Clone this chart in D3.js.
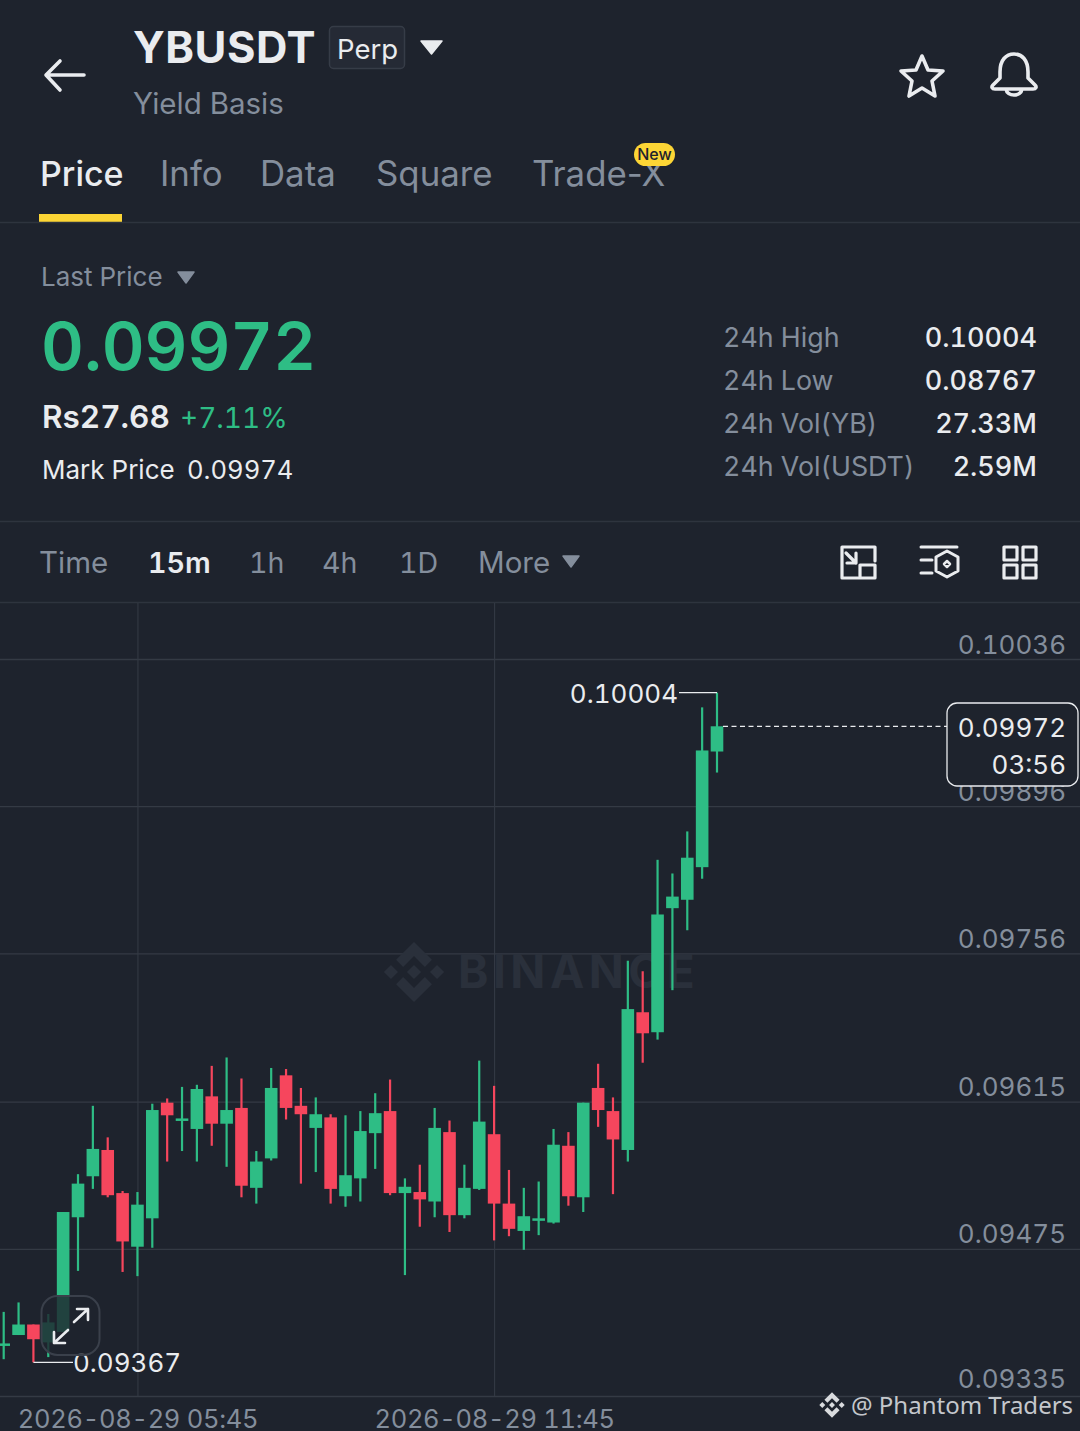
<!DOCTYPE html>
<html>
<head>
<meta charset="utf-8">
<script src="https://cdn.jsdelivr.net/npm/d3@7"></script>
<style>
  html, body { margin: 0; padding: 0; background: #1e232d; overflow: hidden; }
  svg { display: block; font-family: Inter, "Noto Sans", sans-serif; font-variant-numeric: tabular-nums; }
</style>
</head>
<body>
<div id="chart"></div>
<script>
// candles, 15m each, oldest first
const opens = [0.09383,0.09393,0.09403,0.09386,0.09396,0.09505,0.09544,0.09569,0.09528,0.09477,0.09504,0.09614,0.09597,0.09589,0.09620,0.09594,0.09609,0.09533,0.09561,0.09640,0.09611,0.09590,0.09600,0.09525,0.09542,0.09585,0.09606,0.09528,0.09529,0.09520,0.09586,0.09507,0.09532,0.09584,0.09518,0.09492,0.09502,0.09500,0.09573,0.09524,0.09628,0.09606,0.09569,0.09700,0.09681,0.09799,0.09807,0.09838,0.09948];
const highs = [0.09415,0.09424,0.09403,0.09413,0.09510,0.09546,0.09611,0.09581,0.09530,0.09529,0.09613,0.09618,0.09629,0.09631,0.09649,0.09657,0.09637,0.09568,0.09647,0.09646,0.09628,0.09619,0.09603,0.09602,0.09606,0.09623,0.09636,0.09542,0.09555,0.09609,0.09597,0.09555,0.09654,0.09630,0.09550,0.09533,0.09539,0.09589,0.09586,0.09614,0.09651,0.09619,0.09749,0.09739,0.09845,0.09832,0.09872,0.09990,0.10004];
const lows = [0.09370,0.09393,0.09367,0.09372,0.09396,0.09454,0.09532,0.09524,0.09453,0.09449,0.09476,0.09558,0.09568,0.09558,0.09573,0.09553,0.09524,0.09518,0.09559,0.09598,0.09537,0.09548,0.09518,0.09515,0.09520,0.09551,0.09526,0.09450,0.09496,0.09505,0.09491,0.09504,0.09531,0.09483,0.09487,0.09474,0.09488,0.09499,0.09516,0.09510,0.09591,0.09527,0.09558,0.09652,0.09674,0.09721,0.09778,0.09827,0.09928];
const closes = [0.09385,0.09403,0.09389,0.09405,0.09510,0.09537,0.09570,0.09526,0.09482,0.09517,0.09607,0.09602,0.09599,0.09627,0.09594,0.09607,0.09535,0.09558,0.09628,0.09609,0.09603,0.09603,0.09532,0.09545,0.09587,0.09604,0.09528,0.09534,0.09522,0.09590,0.09507,0.09533,0.09596,0.09518,0.09494,0.09506,0.09504,0.09574,0.09525,0.09614,0.09607,0.09579,0.09703,0.09680,0.09793,0.09810,0.09847,0.09949,0.09972];

const priceTicks = [0.10036, 0.09896, 0.09756, 0.09615, 0.09475, 0.09335];
const timeTicks = [9, 33];
const timeLabels = ["2026-08-29 05:45", "2026-08-29 11:45"];

const tabs = ["Price", "Info", "Data", "Square", "Trade-X"];
const tabX = [40, 160, 260, 376, 532];
const statLabels = ["24h High", "24h Low", "24h Vol(YB)", "24h Vol(USDT)"];
const statValues = ["0.10004", "0.08767", "27.33M", "2.59M"];
const frames = ["Time", "15m", "1h", "4h", "1D", "More"];
const frameX = [39, 148, 249, 322, 399, 478];

const lastPrice = 0.09972;
const dayHigh = 0.10004;
const dayLow = 0.09367;
const highIndex = 48;
const lowIndex = 2;

const w = 1080, h = 1431;
const bg = "#1e232d", white = "#eaecef", gray = "#848e9c", line = "#2e343e";
const green = "#2ebd85", red = "#f6465d";

const svg = d3.select("#chart").append("svg").attr("width", w).attr("height", h);
svg.append("rect").attr("width", w).attr("height", h).attr("fill", bg);

function label(x, y, str, size, fill, weight, anchor) {
  return svg.append("text").attr("x", x).attr("y", y).text(str)
    .attr("font-size", size).attr("fill", fill)
    .attr("font-weight", weight || 400).attr("text-anchor", anchor || "start");
}
function icon(d, stroke, sw, fill) {
  return svg.append("path").attr("d", d).attr("fill", fill || "none")
    .attr("stroke", stroke).attr("stroke-width", sw)
    .attr("stroke-linecap", "round").attr("stroke-linejoin", "round");
}
function binanceLogo(cx, cy, s, fill) {
  // unit logo: centre diamond, two side diamonds, top and bottom chevrons
  const d = "M0 -2.2L2.2 0L0 2.2L-2.2 0Z M-7.2 -2.2L-5 0L-7.2 2.2L-9.4 0Z M7.2 -2.2L9.4 0L7.2 2.2L5 0Z" +
    "M0 -9.4L5.6 -3.8L3.4 -1.6L0 -5L-3.4 -1.6L-5.6 -3.8Z M0 9.4L5.6 3.8L3.4 1.6L0 5L-3.4 1.6L-5.6 3.8Z";
  svg.append("path").attr("d", d).attr("fill", fill)
    .attr("transform", "translate(" + cx + "," + cy + ") scale(" + s + ")");
}

// header
icon("M60 61L46 75L60 90M47 75H84", white, 3.6);
label(133, 63, "YBUSDT", 43.5, white, 700).attr("letter-spacing", 0.5);
svg.append("rect").attr("x", 329.5).attr("y", 26.5).attr("width", 75).attr("height", 42).attr("rx", 4)
  .attr("fill", "#252a35").attr("stroke", "#363c47").attr("stroke-width", 1.5);
label(337, 58.5, "Perp", 27.5, white, 400);
icon("M421 41H442L431.5 54Z", white, 1.5, white);
label(133, 114, "Yield Basis", 29.5, gray);
icon("M922 56L928 70L943 71L932 81L935 96L922 88L909 96L912 81L901 71L916 70Z", white, 3.6);
icon("M1000 72C1000 60 1006 54 1014 54C1022 54 1028 60 1028 72V78L1035 85C1037 87 1036 89 1033 89H995C992 89 991 87 993 85L1000 78ZM1006 89C1007 97 1021 97 1022 89", white, 3.6);

// tabs
tabs.forEach(function(t, i) {
  label(tabX[i], 185.5, t, i === 0 ? 34 : 34.8, i === 0 ? white : gray, i === 0 ? 500 : 400)
    .style("font-variant-numeric", "normal");
});
svg.append("rect").attr("x", 634).attr("y", 143).attr("width", 41).attr("height", 23).attr("rx", 11.5).attr("fill", "#fcd535");
label(654.5, 160, "New", 16, "#1e232d", 500, "middle");
svg.append("rect").attr("x", 39).attr("y", 214).attr("width", 83).attr("height", 8).attr("fill", "#fcd535");
[222, 521, 602].forEach(function(y) {
  svg.append("line").attr("x1", 0).attr("x2", w).attr("y1", y + 0.5).attr("y2", y + 0.5).attr("stroke", line).attr("stroke-width", 1.5);
});

// price summary
label(41, 286, "Last Price", 26, gray);
icon("M178 272H194L186 283Z", gray, 1.5, gray);
label(41, 370, d3.format(".5f")(lastPrice), 66.3, green, 600);
label(42, 428, "Rs27.68", 31.5, white, 600);
label(180, 428, "+7.11%", 28, green);
label(42, 479, "Mark Price", 26, white);
label(187, 479, "0.09974", 25.6, white);
statLabels.forEach(function(t, i) {
  const y = 347 + i * 43;
  label(723, y, t, 26.8, gray);
  label(1037, y, statValues[i], 27, white, 500, "end");
});

// timeframes
frames.forEach(function(t, i) {
  label(frameX[i], 573, t, i >= 1 && i <= 4 ? 28.6 : 29.5, i === 1 ? white : gray, i === 1 ? 600 : 400);
});
icon("M563 556H579L571 567Z", gray, 1.5, gray);
icon("M875 561V547H842V578H858M846 553L856 563M856 553V563H847M860 565H875V578H860Z", white, 3.2);
icon("M921 547H957M921 560H932M921 573H932M947 551L958 557V571L947 577L936 571V557Z", white, 3);
icon("M947 561L950 564L947 567L944 564Z", white, 2.5);
icon("M1004 547H1017V560H1004ZM1023 547H1036V560H1023ZM1004 565H1017V578H1004ZM1023 565H1036V578H1023Z", white, 3.2);

// scales
const x = d3.scaleLinear().domain([0, 48]).range([3.7, 717]);
const y = d3.scaleLinear().domain([0.09335, 0.10036]).range([1396, 659]);

// horizontal and vertical grid, drawn with the axes
svg.append("g").call(d3.axisLeft(y).tickValues(priceTicks).tickSize(-w).tickFormat(""))
  .call(function(g) { g.select(".domain").remove(); })
  .call(function(g) { g.selectAll("line").attr("stroke", "#343a44").attr("stroke-width", 1.3); });
svg.append("g").attr("transform", "translate(0,1396)")
  .call(d3.axisBottom(x).tickValues(timeTicks).tickSize(-793).tickFormat(""))
  .call(function(g) { g.select(".domain").remove(); })
  .call(function(g) { g.selectAll("line").attr("stroke", "#343a44").attr("stroke-width", 1.1); });

// watermark
binanceLogo(414, 972, 3.2, "#2a303b");
svg.append("text").attr("x", 458).attr("y", 988).text("BINANCE")
  .attr("font-size", 46).attr("font-weight", 700).attr("letter-spacing", 4.5).attr("fill", "#2a303b");

// candles
const idx = d3.range(closes.length);
const candle = svg.append("g").selectAll("g").data(idx).enter().append("g")
  .attr("fill", function(i) { return closes[i] < opens[i] ? red : green; });
candle.append("rect")
  .attr("x", function(i) { return x(i) - 1.1; })
  .attr("width", 2.2)
  .attr("y", function(i) { return y(highs[i]); })
  .attr("height", function(i) { return y(lows[i]) - y(highs[i]); });
candle.append("rect")
  .attr("x", function(i) { return x(i) - 6.3; })
  .attr("width", 12.6)
  .attr("y", function(i) { return y(Math.max(opens[i], closes[i])); })
  .attr("height", function(i) { return Math.max(2.5, Math.abs(y(opens[i]) - y(closes[i]))); });

// axis labels, the bottom one sits a little higher so it clears the time row
const priceAxis = svg.append("g").attr("transform", "translate(1066,0)")
  .call(d3.axisLeft(y).tickValues(priceTicks).tickSize(0).tickPadding(0).tickFormat(d3.format(".5f")));
priceAxis.select(".domain").remove();
priceAxis.selectAll("text").attr("font-family", "Inter").attr("font-size", 26).attr("fill", gray)
  .attr("dy", function(d) { return d === 0.09335 ? -9 : -6; });

const timeAxis = svg.append("g").attr("transform", "translate(0,1396)")
  .call(d3.axisBottom(x).tickValues(timeTicks).tickSize(0).tickPadding(0)
    .tickFormat(function(d, i) { return timeLabels[i]; }));
timeAxis.select(".domain").remove();
timeAxis.selectAll("text").attr("font-family", "Inter").attr("font-size", 25.5).attr("fill", gray)
  .attr("letter-spacing", -0.3).attr("y", 24).attr("dy", 7.5);

// high and low markers
svg.append("path").attr("fill", "none").attr("stroke", white).attr("stroke-width", 1.3)
  .attr("d", "M679 " + y(dayHigh) + "H" + x(highIndex));
label(678, y(dayHigh) + 10, d3.format(".5f")(dayHigh), 26, white, 400, "end");
svg.append("path").attr("fill", "none").attr("stroke", white).attr("stroke-width", 1.3)
  .attr("d", "M" + x(lowIndex) + " " + y(dayLow) + "H73");
label(73, y(dayLow) + 10, d3.format(".5f")(dayLow), 26, white);

// last price line and box
svg.append("line").attr("x1", x(48) + 6).attr("x2", 947).attr("y1", y(lastPrice)).attr("y2", y(lastPrice))
  .attr("stroke", white).attr("stroke-width", 1.3).attr("stroke-dasharray", "5,3.5");
svg.append("rect").attr("x", 947).attr("y", 703).attr("width", 131).attr("height", 83).attr("rx", 10)
  .attr("fill", bg).attr("stroke", white).attr("stroke-width", 1.3);
label(1066, 737, d3.format(".5f")(lastPrice), 26, white, 400, "end");
label(1066, 774, "03:56", 26, white, 400, "end");

// expand button
svg.append("rect").attr("x", 41.5).attr("y", 1296).attr("width", 58).attr("height", 59).attr("rx", 16)
  .attr("fill", bg).attr("fill-opacity", 0.8).attr("stroke", "#3a404b").attr("stroke-width", 2);
icon("M74 1322L88 1309M77 1309H88V1320M68 1330L54 1343M54 1332V1343H65", white, 2.6);

// credit
binanceLogo(832, 1405, 1.35, "#d9dbde");
svg.append("text").attr("x", 851).attr("y", 1414).text("@ Phantom Traders")
  .attr("font-family", "Noto Sans").attr("font-size", 24).attr("fill", "#c4c7cc");
</script>
</body>
</html>
